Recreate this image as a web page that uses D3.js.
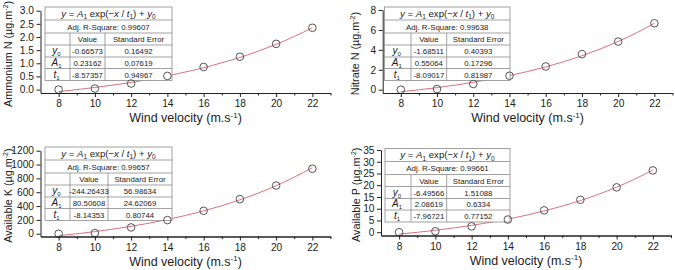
<!DOCTYPE html>
<html>
<head>
<meta charset="utf-8">
<script src="https://cdn.jsdelivr.net/npm/d3@7"></script>
<style>
  body { margin: 0; background: #fff; }
  .axis path, .axis line { stroke: #222; }
  .axis text { font-family: "Liberation Sans Narrow", "Arial Narrow", "Liberation Sans", sans-serif; font-size: 10.2px; fill: #222; }
  .title { font-family: "Liberation Sans Narrow", "Arial Narrow", "Liberation Sans", sans-serif; font-size: 12.5px; fill: #222; }
  .ytitle { font-size: 10.8px; }
  .tbl text { font-family: "Liberation Sans", Arial, sans-serif; fill: #222; }
</style>
</head>
<body>
<div id="chart"></div>
<script>
// wind velocity where samples were taken
var windSpeed = [8, 10, 12, 14, 16, 18, 20, 22];
var xMajor = [8, 10, 12, 14, 16, 18, 20, 22];
var xMinor = [9, 11, 13, 15, 17, 19, 21, 23];
// x positions of the fitted curve
var fitX = [8, 9, 10, 11, 12, 13, 14, 15, 16, 17, 18, 19, 20, 21, 22];

var ammoniumN = [0.0, 0.04, 0.23, 0.52, 0.86, 1.25, 1.74, 2.35];
var nitrateN = [0.0, 0.07, 0.57, 1.4, 2.33, 3.57, 4.83, 6.67];
var availableK = [0, 10, 91, 197, 331, 500, 696, 940];
var availableP = [0.0, 0.4, 2.5, 5.4, 9.3, 13.8, 19.1, 26.3];

// fitted curves (red lines)
var ammoniumFit = [-0.08, 0.0, 0.08, 0.17, 0.27, 0.39, 0.52, 0.67, 0.83, 1.02, 1.22, 1.46, 1.72, 2.02, 2.35];
var nitrateFit = [-0.2, -0.01, 0.21, 0.46, 0.74, 1.06, 1.42, 1.83, 2.29, 2.82, 3.41, 4.08, 4.84, 5.7, 6.67];
var kFit = [-29, -1, 31, 67, 107, 153, 205, 264, 330, 405, 490, 586, 694, 817, 955];
var pFit = [-0.8, -0.04, 0.82, 1.8, 2.91, 4.17, 5.6, 7.21, 9.05, 11.13, 13.48, 16.15, 19.18, 22.62, 26.51];

// y tick values
var ammoniumTicks = [0, 0.5, 1.0, 1.5, 2.0, 2.5, 3.0];
var nitrateTicks = [0, 2, 4, 6, 8];
var kTicks = [0, 200, 400, 600, 800, 1000, 1200];
var pTicks = [0, 5, 10, 15, 20, 25, 30, 35];

// fit tables: [value, standard error] for y0, A1, t1
var paramNames = ["y", "A", "t"];
var paramSubs = ["0", "1", "1"];
var ammoniumParams = [["-0.66573", "0.16492"], ["0.23162", "0.07619"], ["-8.57357", "0.94967"]];
var nitrateParams = [["-1.68511", "0.40393"], ["0.55064", "0.17296"], ["-8.09017", "0.81987"]];
var kParams = [["-244.26433", "56.98634"], ["80.50608", "24.62069"], ["-8.14353", "0.80744"]];
var pParams = [["-6.49566", "1.51088"], ["2.08619", "0.6334"], ["-7.96721", "0.77152"]];
var rSquare = ["0.99607", "0.99638", "0.99657", "0.99661"];

var w = 675, h = 270;

var svg = d3.select("#chart").append("svg")
    .attr("width", w)
    .attr("height", h);

var panels = [
    {name: "Ammonium N", values: ammoniumN, fit: ammoniumFit, ticks: ammoniumTicks, fmt: d3.format(".1f"),
     yDomain: [-0.13, 3.0], params: ammoniumParams, r2: rSquare[0],
     x0: 40.5, x1: 330.5, yB: 93, yT: 10.7, labelX: 8, tbl: {left: 45, right: 172, top: 7, c1: 70, c2: 105}},
    {name: "Nitrate N", values: nitrateN, fit: nitrateFit, ticks: nitrateTicks, fmt: d3.format("d"),
     yDomain: [-0.33, 8], params: nitrateParams, r2: rSquare[1],
     x0: 382.7, x1: 672.5, yB: 93, yT: 10, labelX: 355, tbl: {left: 384.5, right: 510, top: 7, c1: 411, c2: 446.7}},
    {name: "Available K", values: availableK, fit: kFit, ticks: kTicks, fmt: d3.format("d"),
     yDomain: [-40, 1200], params: kParams, r2: rSquare[2],
     x0: 40.5, x1: 330.5, yB: 236.5, yT: 150.7, labelX: 8, tbl: {left: 45, right: 172, top: 147, c1: 70, c2: 108}},
    {name: "Available P", values: availableP, fit: pFit, ticks: pTicks, fmt: d3.format("d"),
     yDomain: [-1.4, 35], params: pParams, r2: rSquare[3],
     x0: 381, x1: 671, yB: 235.5, yT: 150, labelX: 356, tbl: {left: 385, right: 510, top: 148.5, c1: 411, c2: 446.7}}
];

var rowH = [13, 13, 12, 12, 11.5, 12];

panels.forEach(function(p) {
    var xScale = d3.scaleLinear().domain([7, 23]).range([p.x0, p.x1]);
    var yScale = d3.scaleLinear().domain(p.yDomain).range([p.yB, p.yT]);

    var g = svg.append("g");

    // fit line
    var line = d3.line()
        .x(function(d, i) { return xScale(fitX[i]); })
        .y(function(d) { return yScale(d); })
        .curve(d3.curveMonotoneX);

    g.append("path")
        .datum(p.fit)
        .attr("fill", "none")
        .attr("stroke", "#d9737b")
        .attr("stroke-width", 1)
        .attr("d", line);

    // table
    var t = g.append("g").attr("class", "tbl");
    var tw = p.tbl.right - p.tbl.left;
    var ys = [p.tbl.top];
    rowH.forEach(function(r) { ys.push(ys[ys.length - 1] + r); });

    t.append("rect")
        .attr("x", p.tbl.left).attr("y", p.tbl.top)
        .attr("width", tw).attr("height", ys[6] - ys[0])
        .attr("fill", "#fff").attr("stroke", "#8a8a8a").attr("stroke-width", 0.8);

    ys.slice(1, 6).forEach(function(y) {
        t.append("line")
            .attr("x1", p.tbl.left).attr("x2", p.tbl.right)
            .attr("y1", y).attr("y2", y)
            .attr("stroke", "#8a8a8a").attr("stroke-width", 0.8);
    });
    [p.tbl.c1, p.tbl.c2].forEach(function(x) {
        t.append("line")
            .attr("x1", x).attr("x2", x)
            .attr("y1", ys[2]).attr("y2", ys[6])
            .attr("stroke", "#8a8a8a").attr("stroke-width", 0.8);
    });

    var cx = p.tbl.left + tw / 2;
    var f = t.append("text")
        .attr("x", cx).attr("y", ys[1] - 3.2)
        .attr("text-anchor", "middle")
        .style("font-size", "9.6px");
    f.append("tspan").style("font-style", "italic").text("y");
    f.append("tspan").text(" = ");
    f.append("tspan").style("font-style", "italic").text("A");
    f.append("tspan").attr("dy", 2.5).style("font-size", "6.5px").text("1");
    f.append("tspan").attr("dy", -2.5).text(" exp(\u2212");
    f.append("tspan").style("font-style", "italic").text("x");
    f.append("tspan").text(" / ");
    f.append("tspan").style("font-style", "italic").text("t");
    f.append("tspan").attr("dy", 2.5).style("font-size", "6.5px").text("1");
    f.append("tspan").attr("dy", -2.5).text(") + ");
    f.append("tspan").style("font-style", "italic").text("y");
    f.append("tspan").attr("dy", 2.5).style("font-size", "6.5px").text("0");

    t.append("text")
        .attr("x", cx).attr("y", ys[2] - 3.5)
        .attr("text-anchor", "middle")
        .style("font-size", "7.9px")
        .text("Adj. R-Square: " + p.r2);

    var m1 = (p.tbl.c1 + p.tbl.c2) / 2;
    var m2 = (p.tbl.c2 + p.tbl.right) / 2;
    var m0 = (p.tbl.left + p.tbl.c1) / 2;

    t.append("text").attr("x", m1).attr("y", ys[3] - 3)
        .attr("text-anchor", "middle").style("font-size", "7.8px").text("Value");
    t.append("text").attr("x", m2).attr("y", ys[3] - 3)
        .attr("text-anchor", "middle").style("font-size", "7.8px").text("Standard Error");

    p.params.forEach(function(row, i) {
        var yb = ys[i + 4] - 3;
        var lab = t.append("text").attr("x", m0 - 1).attr("y", yb)
            .attr("text-anchor", "middle").style("font-size", "10px");
        lab.append("tspan").style("font-style", "italic").text(paramNames[i]);
        lab.append("tspan").attr("dy", 2).style("font-size", "6px").text(paramSubs[i]);
        t.append("text").attr("x", m1).attr("y", yb)
            .attr("text-anchor", "middle").style("font-size", "7.8px").text(row[0]);
        t.append("text").attr("x", m2).attr("y", yb)
            .attr("text-anchor", "middle").style("font-size", "7.8px").text(row[1]);
    });

    // data points
    g.selectAll("circle")
        .data(p.values)
        .enter().append("circle")
        .attr("cx", function(d, i) { return xScale(windSpeed[i]); })
        .attr("cy", function(d) { return yScale(d); })
        .attr("r", 3.8)
        .attr("fill", "none")
        .attr("stroke", "#555")
        .attr("stroke-width", 1);

    // axes
    var xAxis = d3.axisBottom(xScale).tickValues(xMajor).tickSize(4).tickSizeOuter(0).tickPadding(3);
    var xAxisMinor = d3.axisBottom(xScale).tickValues(xMinor).tickSize(2.5).tickSizeOuter(0).tickFormat("");
    var yAxis = d3.axisLeft(yScale).tickValues(p.ticks).tickSize(4).tickSizeOuter(0).tickPadding(2.5).tickFormat(p.fmt);

    g.append("g")
        .attr("class", "axis")
        .attr("transform", "translate(0," + p.yB + ")")
        .call(xAxisMinor);
    g.append("g")
        .attr("class", "axis")
        .attr("transform", "translate(0," + p.yB + ")")
        .call(xAxis);
    g.append("g")
        .attr("class", "axis")
        .attr("transform", "translate(" + p.x0 + ",0)")
        .call(yAxis);

    // axis titles
    var xt = g.append("text")
        .attr("class", "title")
        .attr("x", (p.x0 + p.x1) / 2)
        .attr("y", p.yB + 29)
        .attr("text-anchor", "middle");
    xt.append("tspan").text("Wind velocity (m.s");
    xt.append("tspan").attr("dy", -4.5).style("font-size", "8px").text("-1");
    xt.append("tspan").attr("dy", 4.5).text(")");

    var yt = g.append("text")
        .attr("class", "title ytitle")
        .attr("transform", "translate(" + p.labelX + "," + ((p.yB + p.yT) / 2 + 2) + ") rotate(-90)")
        .attr("text-anchor", "middle")
        .attr("dy", "0.35em");
    yt.append("tspan").text(p.name + " (\u00b5g.m");
    yt.append("tspan").attr("dy", -4).style("font-size", "7px").text("-2");
    yt.append("tspan").attr("dy", 4).text(")");
});
</script>
</body>
</html>
